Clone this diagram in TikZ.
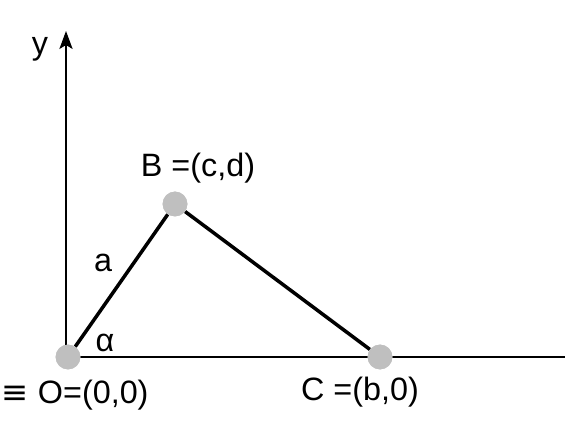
\documentclass[tikz,border=0pt]{standalone}
\usepackage{fontspec}
\setmainfont{Liberation Sans}
\newfontfamily\symfont{DejaVu Sans}
\usetikzlibrary{arrows.meta}

\begin{document}
\begin{tikzpicture}[
		vertex/.style={circle, fill=black!25, inner sep=0pt, minimum size=0.62cm},
		lbl/.style={font=\fontsize{23}{27}\selectfont, inner sep=0pt},
		side/.style={line width=2.5pt},
		axis/.style={line width=1.1pt}
	]
		\useasboundingbox (0,0) rectangle (14.125,11.175);
		% axes
		\coordinate (origin) at (1.65,2.25);
		\coordinate (xend) at (14.125,2.25);
		\coordinate (yend) at (1.65,10.4);
		\draw[axis] (origin) -- (xend);
		\draw[axis, -{Stealth[length=0.45cm, width=0.33cm, inset=0.1cm]}] (origin) -- (yend);
		\node[lbl] (ylbl) at (1.0,9.95) {y};
		% triangle
		\node[vertex] (O) at (1.7,2.25) {};
		\node[vertex] (B) at (4.375,6.075) {};
		\node[vertex] (C) at (9.5,2.25) {};
		\draw[side] (O) -- (B);
		\draw[side] (B) -- (C);
		\node[vertex] at (O) {};
		\node[vertex] at (B) {};
		\node[vertex] at (C) {};
		% labels
		\node[lbl] (Blbl) at (4.95,6.975) {B =(c,d)};
		\node[lbl] (albl) at (2.575,4.6) {a};
		\node[lbl] (alpha) at (2.625,2.6) {α};
		\node[lbl] (Olbl) at (1.88,1.3) {{\symfont ≡} O=(0,0)};
		\node[lbl] (Clbl) at (9.0,1.375) {C =(b,0)};
	\end{tikzpicture}
\end{document}
